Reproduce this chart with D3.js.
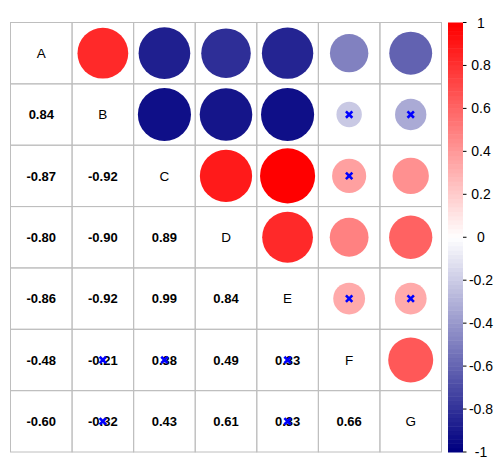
<!DOCTYPE html>
<html>
<head>
<meta charset="utf-8">
<script src="https://cdn.jsdelivr.net/npm/d3@7"></script>
<style>
  body { margin: 0; background: #fff; }
  text { font-family: "Liberation Sans", Arial, sans-serif; }
</style>
</head>
<body>
<div id="chart"></div>
<script>
// variables and their correlation matrix
let vars = ["A", "B", "C", "D", "E", "F", "G"];

let corr = [
    [ 1.00,  0.84, -0.87, -0.80, -0.86, -0.48, -0.60],
    [ 0.84,  1.00, -0.92, -0.90, -0.92, -0.21, -0.32],
    [-0.87, -0.92,  1.00,  0.89,  0.99,  0.38,  0.43],
    [-0.80, -0.90,  0.89,  1.00,  0.84,  0.49,  0.61],
    [-0.86, -0.92,  0.99,  0.84,  1.00,  0.33,  0.33],
    [-0.48, -0.21,  0.38,  0.49,  0.33,  1.00,  0.66],
    [-0.60, -0.32,  0.43,  0.61,  0.33,  0.66,  1.00]
];

// pairs that are not significant (crossed out)
let insig = [["B", "F"], ["C", "F"], ["E", "F"], ["B", "G"], ["E", "G"]];

let legendTicks = [1, 0.8, 0.6, 0.4, 0.2, 0, -0.2, -0.4, -0.6, -0.8, -1];

let width = 501, height = 471;
let nCol = 100;

let svg = d3.select("#chart").append("svg")
    .attr("width", width)
    .attr("height", height);

svg.append("rect")
    .attr("width", width)
    .attr("height", height)
    .attr("fill", "#fff");

let x = d3.scaleBand().domain(vars).range([10.5, 441.5]);
let y = d3.scaleBand().domain(vars).range([22.5, 452]);

// blue - white - red ramp, cut into discrete steps like corrplot
let ramp = d3.scaleLinear()
    .domain([-1, 0, 1])
    .range(["#000080", "#ffffff", "#ff0000"]);
let palette = d3.range(nCol).map(k => ramp(-1 + 2 * k / (nCol - 1)));
function colorOf(r) {
    let k = Math.ceil((r + 1) / 2 * nCol) - 1;
    k = Math.max(0, Math.min(nCol - 1, k));
    return palette[k];
}

let radius = d3.scaleSqrt().domain([0, 1]).range([0, 27.7]);

// flatten the matrix into cells
let cells = [];
vars.forEach((rv, i) => {
    vars.forEach((cv, j) => {
        cells.push({row: rv, col: cv, i: i, j: j, r: corr[i][j]});
    });
});

function isInsig(d) {
    return insig.some(p => (p[0] === d.row && p[1] === d.col) || (p[0] === d.col && p[1] === d.row));
}

// grid
let grid = svg.append("g")
    .attr("stroke", "#bebebe")
    .attr("stroke-width", 1)
    .attr("fill", "none");

grid.selectAll("rect")
    .data(cells)
    .enter()
    .append("rect")
    .attr("x", d => x(d.col))
    .attr("y", d => y(d.row))
    .attr("width", x.bandwidth())
    .attr("height", y.bandwidth());

// upper triangle: circles
svg.append("g").selectAll("circle")
    .data(cells.filter(d => d.j > d.i))
    .enter()
    .append("circle")
    .attr("cx", d => x(d.col) + x.bandwidth() / 2)
    .attr("cy", d => y(d.row) + y.bandwidth() / 2)
    .attr("r", d => radius(Math.abs(d.r)))
    .attr("fill", d => colorOf(d.r));

// lower triangle: numbers
svg.append("g").selectAll("text")
    .data(cells.filter(d => d.j < d.i))
    .enter()
    .append("text")
    .attr("x", d => x(d.col) + x.bandwidth() / 2)
    .attr("y", d => y(d.row) + y.bandwidth() / 2)
    .attr("dy", "0.36em")
    .attr("text-anchor", "middle")
    .attr("font-size", "13px")
    .attr("font-weight", "bold")
    .attr("fill", "#000")
    .text(d => d.r.toFixed(2));

// diagonal: names
svg.append("g").selectAll("text")
    .data(cells.filter(d => d.j === d.i))
    .enter()
    .append("text")
    .attr("x", d => x(d.col) + x.bandwidth() / 2)
    .attr("y", d => y(d.row) + y.bandwidth() / 2)
    .attr("dy", "0.36em")
    .attr("text-anchor", "middle")
    .attr("font-size", "13.5px")
    .attr("fill", "#000")
    .text(d => d.row);

// crosses on non significant cells (both halves)
let s = 3.2;
let crosses = svg.append("g")
    .attr("stroke", "#0000ff")
    .attr("stroke-width", 2.6);

crosses.selectAll("path")
    .data(cells.filter(d => d.i !== d.j && isInsig(d)))
    .enter()
    .append("path")
    .attr("d", d => {
        let cx = x(d.col) + x.bandwidth() / 2;
        let cy = y(d.row) + y.bandwidth() / 2;
        return `M${cx - s},${cy - s}L${cx + s},${cy + s}M${cx - s},${cy + s}L${cx + s},${cy - s}`;
    });

// colour legend
let legY = d3.scaleLinear().domain([1, -1]).range([22.5, 452]);
let legX0 = 448, legX1 = 463;

svg.append("g").selectAll("rect")
    .data(palette)
    .enter()
    .append("rect")
    .attr("x", legX0)
    .attr("y", (d, k) => legY(-1 + 2 * (k + 1) / nCol))
    .attr("width", legX1 - legX0)
    .attr("height", (d, k) => legY(-1 + 2 * k / nCol) - legY(-1 + 2 * (k + 1) / nCol) + 0.5)
    .attr("fill", d => d);

let legAxis = svg.append("g");

legAxis.selectAll("line")
    .data(legendTicks)
    .enter()
    .append("line")
    .attr("x1", legX1)
    .attr("x2", legX1 + 3.5)
    .attr("y1", d => legY(d))
    .attr("y2", d => legY(d))
    .attr("stroke", "#000")
    .attr("stroke-width", 1);

legAxis.selectAll("text")
    .data(legendTicks)
    .enter()
    .append("text")
    .attr("x", 481)
    .attr("y", d => legY(d))
    .attr("dy", "0.36em")
    .attr("text-anchor", "middle")
    .attr("font-size", "14px")
    .attr("fill", "#000")
    .text(d => d);
</script>
</body>
</html>
